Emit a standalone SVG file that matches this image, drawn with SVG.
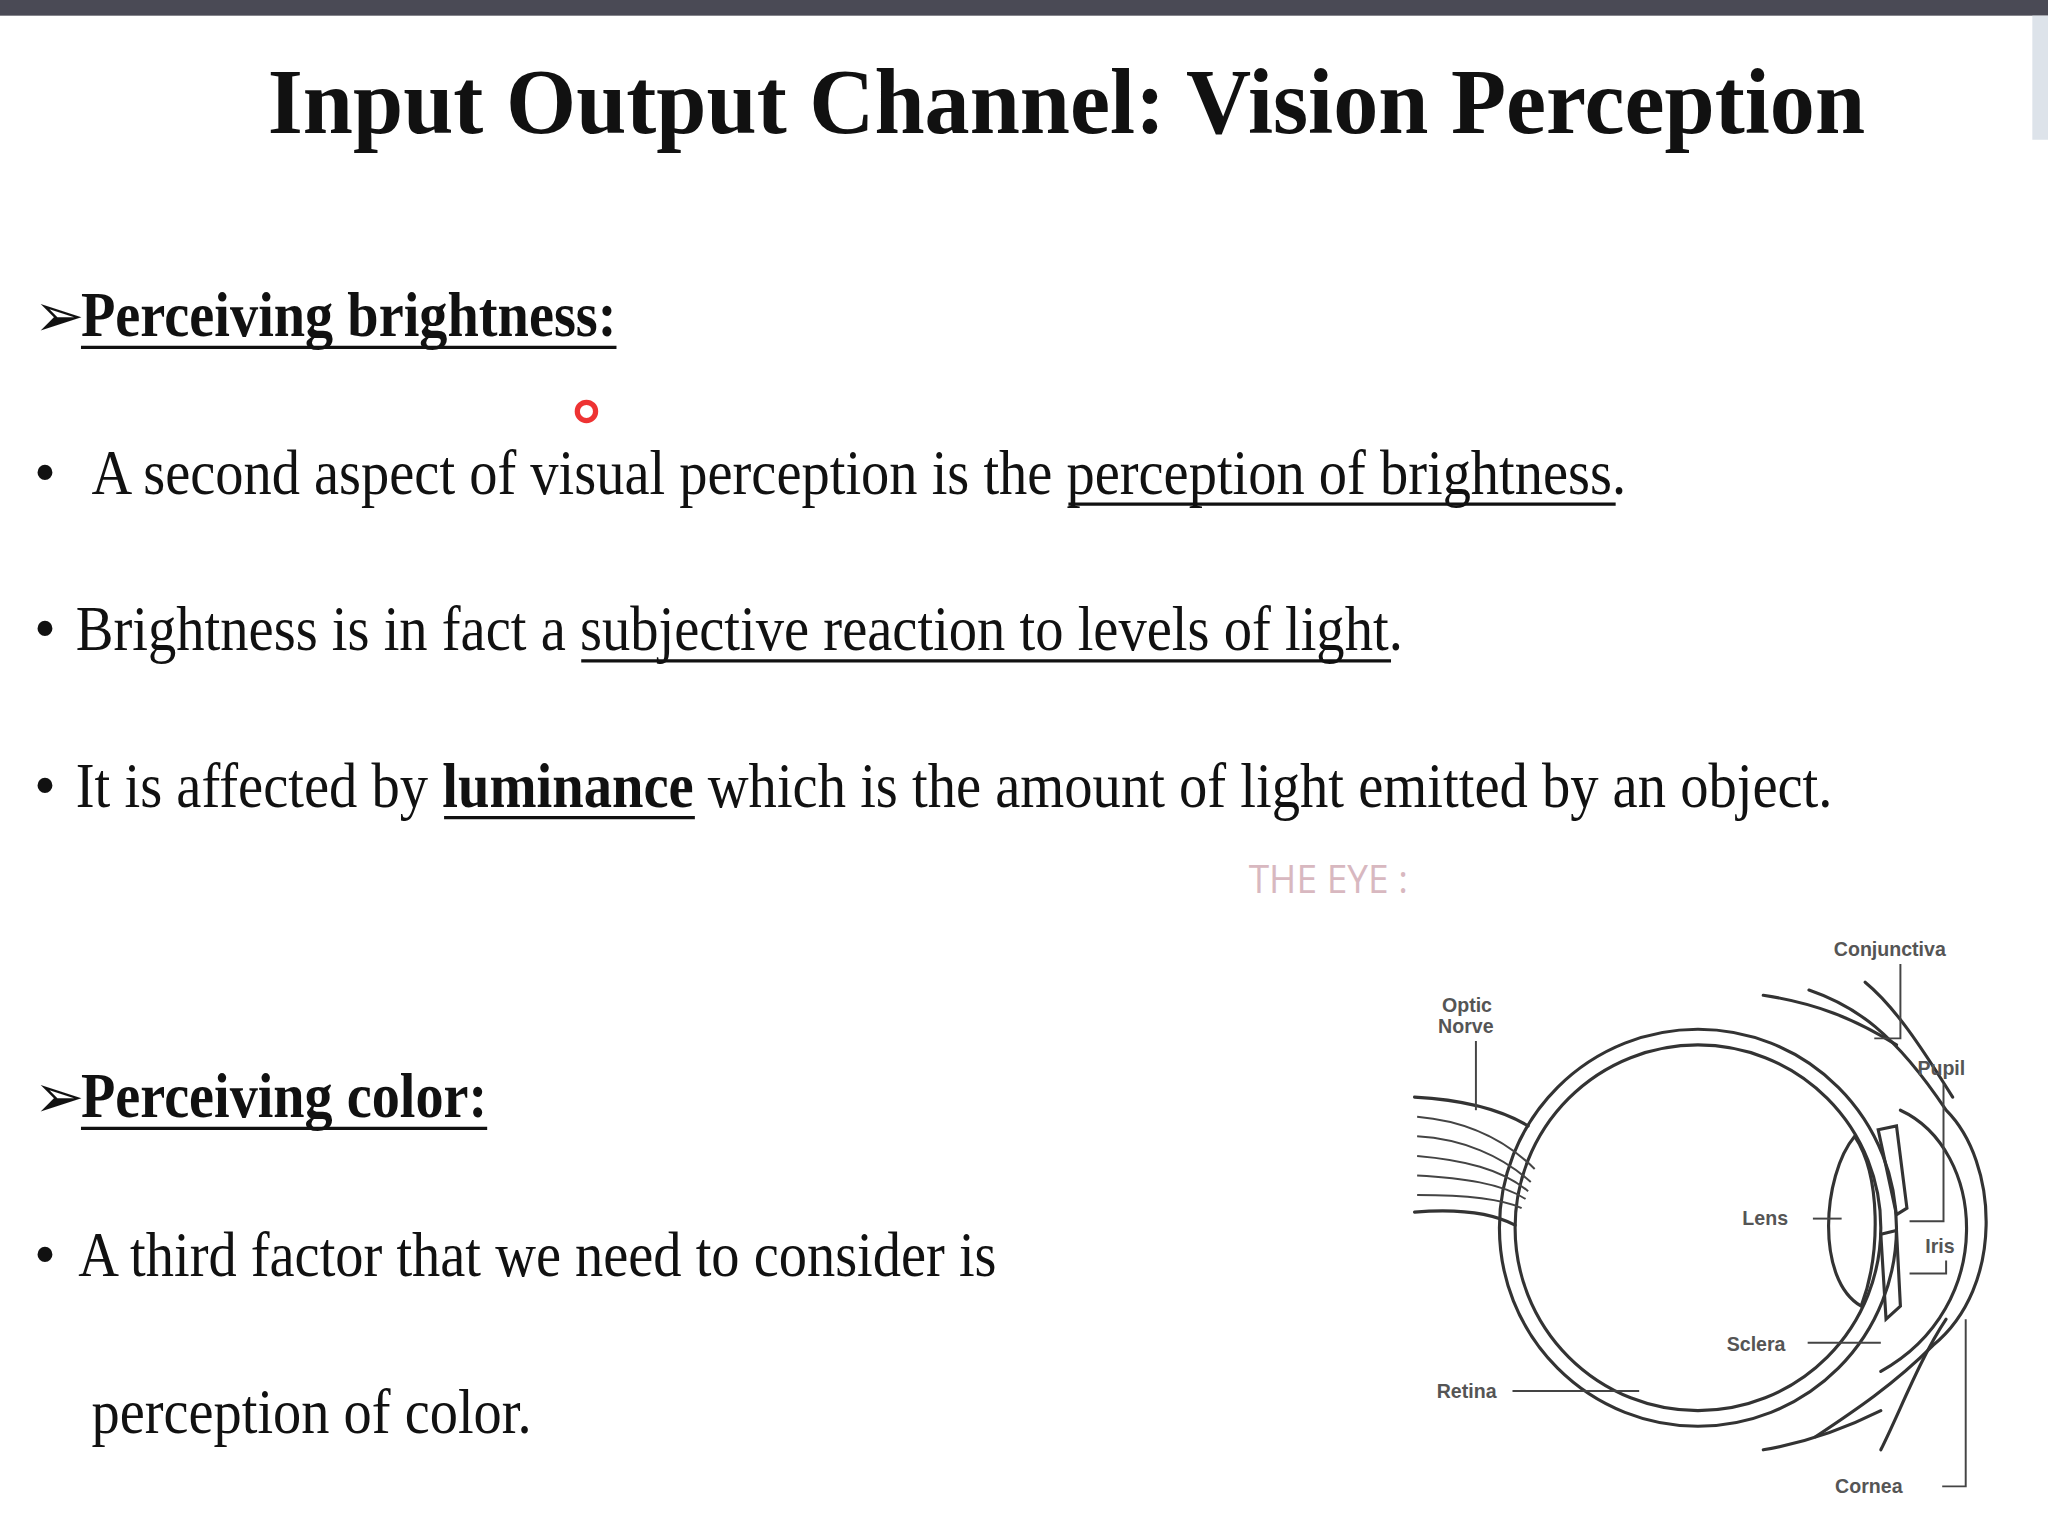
<svg xmlns="http://www.w3.org/2000/svg" width="2048" height="1536" viewBox="0 0 2048 1536">
<style>
.t{font-family:"Liberation Serif","Times New Roman",serif;fill:#111}
.b{font-weight:bold}
.u{stroke:#111;stroke-width:2.5}
.e{fill:none;stroke:#333;stroke-width:2.4;stroke-linecap:round}
.l{fill:none;stroke:#444;stroke-width:1.5}
.s{font-family:"Liberation Sans",Arial,sans-serif;font-weight:bold;fill:#555;font-size:15px}
</style>
<rect width="2048" height="1536" fill="#fff"/>
<g transform="scale(1.30612)">
<rect x="0" y="0" width="1568" height="12" fill="#4a4a55"/>
<rect x="1556" y="12" width="12" height="95" fill="#dde3ea"/>
<g id="title"><text class="t b" x="205" y="102" font-size="72" textLength="1223" lengthAdjust="spacingAndGlyphs">Input Output Channel: Vision Perception</text></g>
<g id="h1">
<text x="26" y="257" font-family="DejaVu Sans,sans-serif" font-size="46" fill="#111">➢</text>
<text class="t b" x="62" y="257" font-size="48" textLength="410" lengthAdjust="spacingAndGlyphs">Perceiving brightness:</text>
<line class="u" x1="62" y1="266" x2="472" y2="266"/>
</g>
<circle cx="449" cy="315" r="7" fill="none" stroke="#e33" stroke-width="4"/>
<g id="b1">
<text class="t" x="26" y="378" font-size="48">•</text>
<text class="t" x="70" y="378" font-size="48" textLength="1175" lengthAdjust="spacingAndGlyphs">A second aspect of visual perception is the perception of brightness.</text>
<line class="u" x1="818" y1="386" x2="1237" y2="386"/>
</g>
<g id="b2">
<text class="t" x="26" y="498" font-size="48">•</text>
<text class="t" x="58" y="498" font-size="48" textLength="1016" lengthAdjust="spacingAndGlyphs">Brightness is in fact a subjective reaction to levels of light.</text>
<line class="u" x1="445" y1="506" x2="1065" y2="506"/>
</g>
<g id="b3">
<text class="t" x="26" y="618" font-size="48">•</text>
<text class="t" x="58" y="618" font-size="48" textLength="1345" lengthAdjust="spacingAndGlyphs">It is affected by <tspan class="b">luminance</tspan> which is the amount of light emitted by an object.</text>
<line class="u" x1="340" y1="626" x2="532" y2="626" stroke-width="3"/>
</g>
<text x="956" y="684" font-family="Open Sans,Liberation Sans,sans-serif" font-size="30" fill="#d8b8c0" textLength="122" lengthAdjust="spacingAndGlyphs">THE EYE :</text>
<g id="h2">
<text x="26" y="855" font-family="DejaVu Sans,sans-serif" font-size="46" fill="#111">➢</text>
<text class="t b" x="62" y="855" font-size="48" textLength="311" lengthAdjust="spacingAndGlyphs">Perceiving color:</text>
<line class="u" x1="62" y1="864" x2="373" y2="864"/>
</g>
<g id="b4">
<text class="t" x="26" y="977" font-size="48">•</text>
<text class="t" x="60" y="977" font-size="48" textLength="703" lengthAdjust="spacingAndGlyphs">A third factor that we need to consider is</text>
<text class="t" x="70" y="1097" font-size="48" textLength="337" lengthAdjust="spacingAndGlyphs">perception of color.</text>
</g>
<g id="eye">
<circle class="e" cx="1300" cy="940" r="152"/>
<circle class="e" cx="1300" cy="940" r="140"/>
<path class="e" d="M1083 840 C1120 842 1150 850 1170 862"/>
<path class="e" d="M1083 928 C1120 925 1145 930 1160 938"/>
<path class="l" d="M1085 855 C1120 858 1150 870 1175 895 M1085 870 C1120 872 1150 885 1172 905 M1085 885 C1120 888 1150 895 1170 912 M1085 900 C1120 902 1150 906 1168 918 M1085 915 C1120 915 1150 918 1165 925"/>
<path class="e" d="M1350 762 C1390 768 1420 780 1452 800"/>
<path class="e" d="M1385 758 C1420 770 1450 790 1490 850 C1530 890 1535 985 1480 1030 C1450 1060 1420 1080 1390 1100"/>
<path class="e" d="M1428 752 C1450 770 1470 800 1495 840"/>
<path class="e" d="M1455 850 C1520 880 1530 1000 1440 1050"/>
<path class="e" d="M1490 1010 C1470 1040 1455 1080 1440 1110"/>
<path class="e" d="M1350 1110 C1380 1105 1410 1095 1440 1080"/>
<path class="e" d="M1420 870 C1395 900 1390 980 1425 1000 C1440 960 1440 900 1420 870 Z"/>
<path class="e" d="M1438 865 L1452 862 L1460 925 L1452 930 Z"/>
<path class="e" d="M1440 945 L1452 942 L1455 1000 L1444 1010 Z"/>
<text class="s" x="1104" y="775">Optic</text>
<text class="s" x="1101" y="791">Norve</text>
<line class="l" x1="1130" y1="797" x2="1130" y2="850"/>
<text class="s" x="1404" y="732">Conjunctiva</text>
<polyline class="l" points="1455,738 1455,795 1435,795"/>
<text class="s" x="1468" y="823">Pupil</text>
<polyline class="l" points="1488,830 1488,935 1462,935"/>
<text class="s" x="1334" y="938">Lens</text>
<line class="l" x1="1388" y1="933" x2="1410" y2="933"/>
<text class="s" x="1474" y="959" font-size="12">Iris</text>
<polyline class="l" points="1490,965 1490,975 1462,975"/>
<text class="s" x="1322" y="1034">Sclera</text>
<line class="l" x1="1384" y1="1028" x2="1440" y2="1028"/>
<text class="s" x="1100" y="1070">Retina</text>
<line class="l" x1="1158" y1="1065" x2="1255" y2="1065"/>
<text class="s" x="1405" y="1143">Cornea</text>
<polyline class="l" points="1487,1138 1505,1138 1505,1010"/>
</g>
</g>
</svg>
